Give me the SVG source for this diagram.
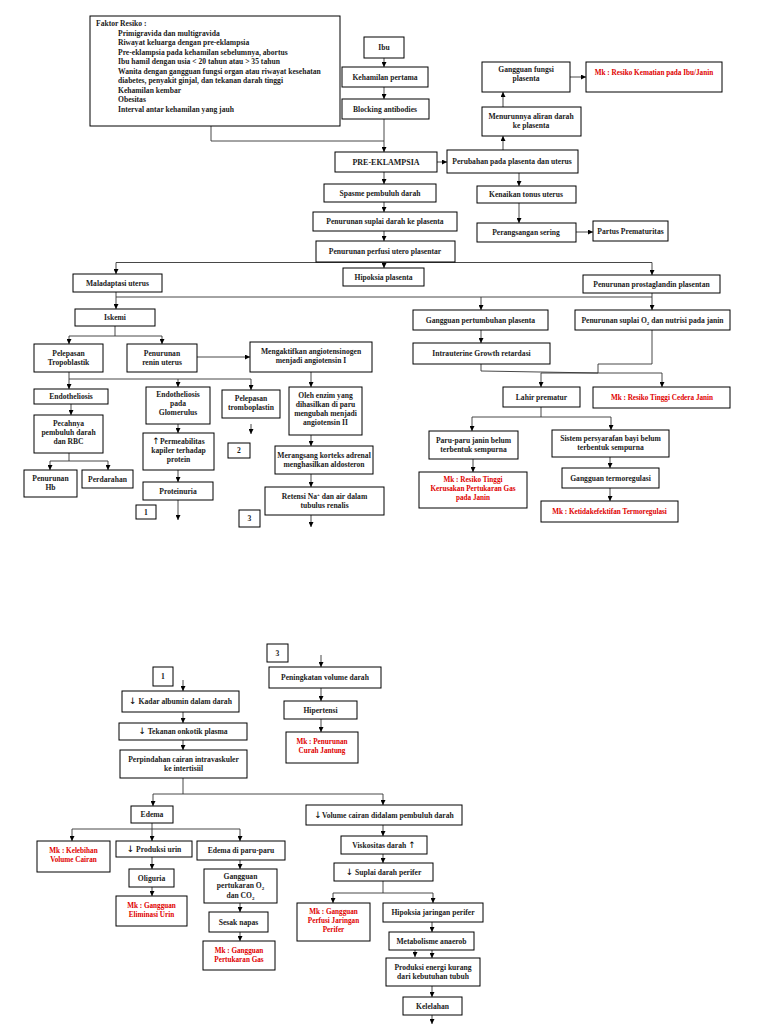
<svg xmlns="http://www.w3.org/2000/svg" width="768" height="1024" viewBox="0 0 768 1024">
<style>
.b{fill:#fff;stroke:#000;stroke-width:1}
.t{font-family:"Liberation Serif","Times New Roman",serif;font-size:7.6px;font-weight:bold;fill:#1a1a1a;text-anchor:middle}
.l{text-anchor:start}
.r{fill:#e00000;font-size:7.2px}
.c{fill:none;stroke:#333;stroke-width:0.9}
.a{fill:none;stroke:#333;stroke-width:0.9;marker-end:url(#ah)}
.g{font-family:"DejaVu Sans",sans-serif;font-size:9px;font-weight:normal;fill:#000}
.s{font-size:5px}
</style>
<defs>
<marker id="ah" viewBox="0 0 6 6" refX="6" refY="3" markerWidth="5" markerHeight="5" markerUnits="userSpaceOnUse" orient="auto"><path d="M0,0 L6,3 L0,6 z" fill="#000"/></marker>
</defs>
<rect width="768" height="1024" fill="#fff"/>

<g id="connectors">
<path class="c" d="M211,126 V141 H384"/>
<path class="a" d="M384,58 V67"/>
<path class="a" d="M384,87 V99"/>
<path class="a" d="M384,119 V152"/>
<path class="a" d="M384,172 V184"/>
<path class="a" d="M384,202 V212"/>
<path class="a" d="M384,231 V241"/>
<path class="a" d="M437,162 H447"/>
<path class="a" d="M503,150 V136"/>
<path class="a" d="M503,107 V92"/>
<path class="a" d="M570,77 H586"/>
<path class="a" d="M519,173 V186"/>
<path class="a" d="M519,203 V223"/>
<path class="a" d="M576,232 H593"/>
<path class="c" d="M116,262.5 H652"/>
<path class="a" d="M116,262.5 V274"/>
<path class="a" d="M384,262.5 V268"/>
<path class="a" d="M652,262.5 V275"/>
<path class="c" d="M116,297 H652"/>
<path class="a" d="M116,292 V309"/>
<path class="a" d="M481,297 V310"/>
<path class="a" d="M652,293 V310"/>
<path class="a" d="M481,330 V343"/>
<path class="c" d="M481,364 V371 L598,373"/>
<path class="c" d="M652,330 V364 H598 V373"/>
<path class="c" d="M541,373 H662"/>
<path class="a" d="M541,373 V387"/>
<path class="a" d="M662,373 V387"/>
<path class="c" d="M541,407 V417"/>
<path class="c" d="M472,417 H611"/>
<path class="a" d="M472,417 V431"/>
<path class="a" d="M611,417 V430"/>
<path class="a" d="M473,459 V472"/>
<path class="a" d="M610,457 V468"/>
<path class="a" d="M610,488 V501"/>
<path class="c" d="M115,326 V336"/>
<path class="c" d="M69,336 H162"/>
<path class="a" d="M69,336 V344"/>
<path class="a" d="M162,336 V344"/>
<path class="a" d="M197,357 H250"/>
<path class="c" d="M69,372 V379 H251"/>
<path class="a" d="M69,379 V389"/>
<path class="a" d="M178,379 V387"/>
<path class="a" d="M251,379 V390"/>
<path class="a" d="M311,372 V387"/>
<path class="a" d="M71,404 V415"/>
<path class="c" d="M69,453 V461"/>
<path class="c" d="M50,461 H108"/>
<path class="a" d="M50,461 V470"/>
<path class="a" d="M108,461 V470"/>
<path class="a" d="M178,424 V433"/>
<path class="a" d="M178,470 V482"/>
<path class="a" d="M178,500 V520"/>
<path class="a" d="M251,424 V434"/>
<path class="a" d="M311,435 V446"/>
<path class="a" d="M311,474 V487"/>
<path class="a" d="M311,515 V527"/>
<path class="a" d="M183,680 V691"/>
<path class="a" d="M183,712 V723"/>
<path class="a" d="M183,740 V750"/>
<path class="c" d="M183,778 V794"/>
<path class="c" d="M153,794 H383"/>
<path class="a" d="M153,794 V806"/>
<path class="a" d="M383,794 V805"/>
<path class="c" d="M152,823 V829"/>
<path class="c" d="M72,829 H240"/>
<path class="a" d="M72,829 V841"/>
<path class="a" d="M152,829 V841"/>
<path class="a" d="M240,829 V841"/>
<path class="a" d="M152,857 V869"/>
<path class="a" d="M152,887 V896"/>
<path class="a" d="M240,860 V869"/>
<path class="a" d="M240,903 V912"/>
<path class="a" d="M240,932 V941"/>
<path class="a" d="M321,655 V667"/>
<path class="a" d="M321,688 V701"/>
<path class="a" d="M321,719 V732"/>
<path class="a" d="M383,825 V836"/>
<path class="a" d="M383,854 V863"/>
<path class="c" d="M383,881 V893"/>
<path class="c" d="M333,893 H433"/>
<path class="a" d="M333,893 V903"/>
<path class="a" d="M433,893 V903"/>
<path class="a" d="M432,922 V932"/>
<path class="a" d="M432,950 V958"/>
<path class="a" d="M415,950 V957"/>
<path class="a" d="M432,986 V997"/>
<path class="a" d="M432,1015 V1024"/>
</g>

<g id="faktor-resiko"><rect class="b" x="90" y="16" width="250" height="110"/>
<text class="t l" x="96" y="26">Faktor Resiko :</text>
<text class="t l" x="118" y="35.5">Primigravida dan multigravida</text>
<text class="t l" x="118" y="45">Riwayat keluarga dengan pre-eklampsia</text>
<text class="t l" x="118" y="54.5">Pre-eklampsia pada kehamilan sebelumnya, abortus</text>
<text class="t l" x="118" y="64">Ibu hamil dengan usia &lt; 20 tahun atau &gt; 35 tahun</text>
<text class="t l" x="118" y="73.5">Wanita dengan gangguan fungsi organ atau riwayat kesehatan</text>
<text class="t l" x="118" y="83">diabetes, penyakit ginjal, dan tekanan darah tinggi</text>
<text class="t l" x="118" y="92.5">Kehamilan kembar</text>
<text class="t l" x="118" y="102">Obesitas</text>
<text class="t l" x="118" y="111.5">Interval antar kehamilan yang jauh</text></g>

<g id="ibu"><rect class="b" x="364" y="37" width="40" height="21"/><text class="t" x="384" y="50">Ibu</text></g>
<g id="kehamilan-pertama"><rect class="b" x="342" y="67" width="86" height="20"/><text class="t" x="385" y="79.5">Kehamilan pertama</text></g>
<g id="blocking"><rect class="b" x="342" y="99" width="87" height="20"/><text class="t" x="385" y="111.5">Blocking antibodies</text></g>
<g id="pre-eklampsia"><rect class="b" x="335" y="152" width="102" height="20"/><text class="t" x="386" y="165" style="font-size:8px">PRE-EKLAMPSIA</text></g>
<g id="spasme"><rect class="b" x="324" y="184" width="112" height="18"/><text class="t" x="380" y="195.5">Spasme pembuluh darah</text></g>
<g id="suplai-plasenta"><rect class="b" x="313" y="212" width="144" height="19"/><text class="t" x="385" y="224">Penurunan suplai darah ke plasenta</text></g>
<g id="perfusi"><rect class="b" x="316" y="241" width="139" height="21"/><text class="t" x="385" y="253.5">Penurunan perfusi utero plasentar</text></g>
<g id="perubahan"><rect class="b" x="447" y="150" width="131" height="23"/><text class="t" x="512" y="163.5">Perubahan pada plasenta dan uterus</text></g>
<g id="menurunnya"><rect class="b" x="482" y="107" width="99" height="29"/><text class="t" x="531" y="119">Menurunnya aliran darah</text><text class="t" x="531" y="128">ke plasenta</text></g>
<g id="gangguan-fungsi"><rect class="b" x="482" y="62" width="88" height="30"/><text class="t" x="526" y="72">Gangguan fungsi</text><text class="t" x="526" y="81">plasenta</text></g>
<g id="mk-kematian"><rect class="b" x="586" y="62" width="136" height="30"/><text class="t r" x="654" y="75">Mk : Resiko Kematian pada Ibu/Janin</text></g>
<g id="kenaikan"><rect class="b" x="477" y="186" width="99" height="17"/><text class="t" x="526" y="197">Kenaikan tonus uterus</text></g>
<g id="perangsangan"><rect class="b" x="477" y="223" width="99" height="19"/><text class="t" x="526" y="235">Perangsangan sering</text></g>
<g id="partus"><rect class="b" x="593" y="221" width="75" height="20"/><text class="t" x="630.5" y="233.5">Partus Prematuritas</text></g>

<g id="maladaptasi"><rect class="b" x="73" y="274" width="89" height="18"/><text class="t" x="117.5" y="285.5">Maladaptasi uterus</text></g>
<g id="hipoksia-plasenta"><rect class="b" x="343" y="268" width="81" height="18"/><text class="t" x="383.5" y="279.5">Hipoksia plasenta</text></g>
<g id="prostaglandin"><rect class="b" x="583" y="275" width="137" height="18"/><text class="t" x="651.5" y="286.5">Penurunan prostaglandin plasentan</text></g>
<g id="iskemi"><rect class="b" x="75" y="309" width="80" height="17"/><text class="t" x="115" y="320">Iskemi</text></g>
<g id="gangguan-pertumbuhan"><rect class="b" x="413" y="310" width="135" height="20"/><text class="t" x="480.5" y="322.5">Gangguan pertumbuhan plasenta</text></g>
<g id="suplai-o2"><rect class="b" x="575" y="310" width="155" height="20"/><text class="t" x="652.5" y="322.5">Penurunan suplai O<tspan class="s" dy="2">2</tspan><tspan dy="-2"> dan nutrisi pada janin</tspan></text></g>
<g id="iugr"><rect class="b" x="413" y="343" width="137" height="21"/><text class="t" x="481.5" y="355.5">Intrauterine Growth retardasi</text></g>
<g id="lahir-prematur"><rect class="b" x="503" y="387" width="77" height="20"/><text class="t" x="541.5" y="399.5">Lahir prematur</text></g>
<g id="mk-cedera"><rect class="b" x="593" y="387" width="137" height="21"/><text class="t r" x="662" y="399.5">Mk : Resiko Tinggi Cedera Janin</text></g>
<g id="paru-paru"><rect class="b" x="429" y="431" width="89" height="28"/><text class="t" x="473.5" y="442.5">Paru-paru janin belum</text><text class="t" x="473.5" y="451.5">terbentuk sempurna</text></g>
<g id="sistem"><rect class="b" x="552" y="430" width="117" height="27"/><text class="t" x="610.5" y="441">Sistem persyarafan bayi belum</text><text class="t" x="610.5" y="450">terbentuk sempurna</text></g>
<g id="mk-kerusakan"><rect class="b" x="419" y="472" width="108" height="36"/><text class="t r" x="473" y="482">Mk : Resiko Tinggi</text><text class="t r" x="473" y="491">Kerusakan Pertukaran Gas</text><text class="t r" x="473" y="500">pada Janin</text></g>
<g id="termoregulasi"><rect class="b" x="562" y="468" width="97" height="20"/><text class="t" x="610.5" y="480.5">Gangguan termoregulasi</text></g>
<g id="mk-termo"><rect class="b" x="541" y="501" width="137" height="21"/><text class="t r" x="609.5" y="513.5">Mk : Ketidakefektifan Termoregulasi</text></g>

<g id="tropoblastik"><rect class="b" x="34" y="344" width="69" height="28"/><text class="t" x="68.5" y="355.5">Pelepasan</text><text class="t" x="68.5" y="364.5">Tropoblastik</text></g>
<g id="renin"><rect class="b" x="127" y="344" width="70" height="28"/><text class="t" x="162" y="355.5">Penurunan</text><text class="t" x="162" y="364.5">renin uterus</text></g>
<g id="mengaktifkan"><rect class="b" x="250" y="342" width="122" height="30"/><text class="t" x="311" y="354">Mengaktifkan angiotensinogen</text><text class="t" x="311" y="363">menjadi angiotensin I</text></g>
<g id="endotheliosis"><rect class="b" x="34" y="389" width="74" height="15"/><text class="t" x="71" y="398.5">Endotheliosis</text></g>
<g id="glomerulus"><rect class="b" x="146" y="387" width="64" height="37"/><text class="t" x="178" y="397">Endotheliosis</text><text class="t" x="178" y="406">pada</text><text class="t" x="178" y="415">Glomerulus</text></g>
<g id="tromboplastin"><rect class="b" x="222" y="390" width="58" height="28"/><text class="t" x="251" y="401">Pelepasan</text><text class="t" x="251" y="410">tromboplastin</text></g>
<g id="oleh-enzim"><rect class="b" x="289" y="387" width="73" height="48"/><text class="t" x="325.5" y="398">Oleh enzim yang</text><text class="t" x="325.5" y="407">dihasilkan di paru</text><text class="t" x="325.5" y="416">mengubah menjadi</text><text class="t" x="325.5" y="425">angiotensin II</text></g>
<g id="pecahnya"><rect class="b" x="34" y="415" width="69" height="38"/><text class="t" x="68.5" y="426">Pecahnya</text><text class="t" x="68.5" y="435">pembuluh darah</text><text class="t" x="68.5" y="444">dan RBC</text></g>
<g id="penurunan-hb"><rect class="b" x="24" y="470" width="53" height="27"/><text class="t" x="50.5" y="481">Penurunan</text><text class="t" x="50.5" y="490">Hb</text></g>
<g id="perdarahan"><rect class="b" x="82" y="470" width="51" height="18"/><text class="t" x="107.5" y="481.5">Perdarahan</text></g>
<g id="permeabilitas"><rect class="b" x="143" y="433" width="71" height="37"/><text class="t" x="178.5" y="444"><tspan class="g">↑</tspan>Permeabilitas</text><text class="t" x="178.5" y="453">kapiler terhadap</text><text class="t" x="178.5" y="462">protein</text></g>
<g id="proteinuria"><rect class="b" x="143" y="482" width="70" height="18"/><text class="t" x="178" y="493.5">Proteinuria</text></g>
<g id="ref1a"><rect class="b" x="136" y="505" width="20" height="14"/><text class="t" x="146" y="514.5">1</text></g>
<g id="ref2"><rect class="b" x="228" y="443" width="22" height="15"/><text class="t" x="239" y="453">2</text></g>
<g id="merangsang"><rect class="b" x="275" y="446" width="98" height="28"/><text class="t" x="324" y="457.5">Merangsang korteks adrenal</text><text class="t" x="324" y="466.5">menghasilkan aldosteron</text></g>
<g id="retensi"><rect class="b" x="265" y="487" width="119" height="28"/><text class="t" x="324.5" y="498.5">Retensi Na<tspan class="s" dy="-2.5">+</tspan><tspan dy="2.5"> dan air dalam</tspan></text><text class="t" x="324.5" y="507.5">tubulus renalis</text></g>
<g id="ref3a"><rect class="b" x="239" y="510" width="21" height="17"/><text class="t" x="249.5" y="521">3</text></g>

<g id="ref1b"><rect class="b" x="153" y="667" width="20" height="19"/><text class="t" x="163" y="679">1</text></g>
<g id="albumin"><rect class="b" x="122" y="691" width="117" height="21"/><text class="t" x="180.5" y="704"><tspan class="g">↓</tspan> Kadar albumin dalam darah</text></g>
<g id="onkotik"><rect class="b" x="119" y="723" width="128" height="17"/><text class="t" x="183" y="734"><tspan class="g">↓</tspan>  Tekanan onkotik plasma</text></g>
<g id="perpindahan"><rect class="b" x="120" y="750" width="127" height="28"/><text class="t" x="183.5" y="761.5">Perpindahan cairan intravaskuler</text><text class="t" x="183.5" y="770.5">ke intertisiil</text></g>
<g id="edema"><rect class="b" x="131" y="806" width="42" height="17"/><text class="t" x="152" y="817">Edema</text></g>
<g id="mk-kelebihan"><rect class="b" x="37" y="841" width="73" height="31"/><text class="t r" x="73.5" y="853">Mk : Kelebihan</text><text class="t r" x="73.5" y="862">Volume Cairan</text></g>
<g id="produksi-urin"><rect class="b" x="116" y="841" width="76" height="16"/><text class="t" x="154" y="851.5"><tspan class="g">↓</tspan> Produksi urin</text></g>
<g id="edema-paru"><rect class="b" x="197" y="841" width="88" height="19"/><text class="t" x="241" y="853">Edema di paru-paru</text></g>
<g id="oliguria"><rect class="b" x="129" y="869" width="45" height="18"/><text class="t" x="151.5" y="880.5">Oliguria</text></g>
<g id="mk-eliminasi"><rect class="b" x="116" y="896" width="71" height="30"/><text class="t r" x="151.5" y="908">Mk : Gangguan</text><text class="t r" x="151.5" y="917">Eliminasi Urin</text></g>
<g id="pertukaran"><rect class="b" x="204" y="869" width="73" height="34"/><text class="t" x="240.5" y="878.5">Gangguan</text><text class="t" x="240.5" y="887.5">pertukaran O<tspan class="s" dy="2">2</tspan></text><text class="t" x="240.5" y="897.5">dan CO<tspan class="s" dy="2">2</tspan></text></g>
<g id="sesak"><rect class="b" x="209" y="912" width="59" height="20"/><text class="t" x="238.5" y="924.5">Sesak napas</text></g>
<g id="mk-gas"><rect class="b" x="203" y="941" width="72" height="29"/><text class="t r" x="239" y="952.5">Mk : Gangguan</text><text class="t r" x="239" y="961.5">Pertukaran Gas</text></g>

<g id="ref3b"><rect class="b" x="267" y="644" width="21" height="18"/><text class="t" x="277.5" y="655.5">3</text></g>
<g id="peningkatan"><rect class="b" x="269" y="667" width="112" height="21"/><text class="t" x="325" y="680">Peningkatan volume darah</text></g>
<g id="hipertensi"><rect class="b" x="284" y="701" width="73" height="18"/><text class="t" x="320.5" y="712.5">Hipertensi</text></g>
<g id="mk-curah"><rect class="b" x="286" y="732" width="72" height="31"/><text class="t r" x="322" y="744">Mk : Penurunan</text><text class="t r" x="322" y="753">Curah Jantung</text></g>
<g id="volume-cairan"><rect class="b" x="306" y="805" width="156" height="20"/><text class="t" x="384" y="817.5"><tspan class="g">↓</tspan>Volume cairan didalam pembuluh darah</text></g>
<g id="viskositas"><rect class="b" x="341" y="836" width="86" height="18"/><text class="t" x="384" y="847.5">Viskositas darah <tspan class="g">↑</tspan></text></g>
<g id="suplai-perifer"><rect class="b" x="334" y="863" width="99" height="18"/><text class="t" x="383.5" y="874.5"><tspan class="g">↓</tspan> Suplai darah perifer</text></g>
<g id="mk-perfusi"><rect class="b" x="297" y="903" width="73" height="38"/><text class="t r" x="333.5" y="914">Mk : Gangguan</text><text class="t r" x="333.5" y="923">Perfusi Jaringan</text><text class="t r" x="333.5" y="932">Perifer</text></g>
<g id="hipoksia-jaringan"><rect class="b" x="383" y="903" width="100" height="19"/><text class="t" x="433" y="915">Hipoksia jaringan perifer</text></g>
<g id="metabolisme"><rect class="b" x="389" y="932" width="85" height="18"/><text class="t" x="431.5" y="943.5">Metabolisme anaerob</text></g>
<g id="produksi-energi"><rect class="b" x="386" y="958" width="94" height="28"/><text class="t" x="433" y="969.5">Produksi energi kurang</text><text class="t" x="433" y="978.5">dari kebutuhan tubuh</text></g>
<g id="kelelahan"><rect class="b" x="403" y="997" width="59" height="18"/><text class="t" x="432.5" y="1008.5">Kelelahan</text></g>
</svg>
